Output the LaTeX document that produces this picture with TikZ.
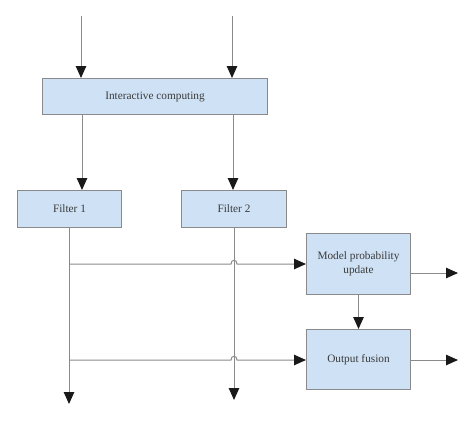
\documentclass[tikz,border=0pt]{standalone}
\usepackage{fontspec}
\setmainfont{Liberation Serif}
\usetikzlibrary{arrows.meta}
\definecolor{boxfill}{HTML}{CFE2F5}
\definecolor{linec}{HTML}{8A8A8A}
\definecolor{txt}{HTML}{3A3A3A}
\tikzset{
  blk/.style={draw=linec, fill=boxfill, line width=1pt, text=txt, font=\fontsize{11.3}{13.5}\selectfont, align=center, inner sep=0pt, anchor=north west},
  con/.style={draw=linec, line width=1pt},
  arr/.style={con, -{Triangle[length=12pt,width=10.5pt,color=black!90]}},
}
\begin{document}
\begin{tikzpicture}[x=1pt,y=-1pt]
\useasboundingbox (0,0) rectangle (474,421);
\node[blk, minimum width=225pt, minimum height=36pt] (ic) at (42,78) {Interactive computing};
\node[blk, minimum width=104pt, minimum height=37pt] (f1) at (17,190) {Filter 1};
\node[blk, minimum width=105pt, minimum height=37pt] (f2) at (181,190) {Filter 2};
\node[blk, minimum width=104pt, minimum height=61pt] (mpu) at (306,233) {Model probability\\update};
\node[blk, minimum width=104pt, minimum height=60pt] (of) at (306,329) {Output fusion};
% inputs
\coordinate (in1) at (81,16);
\coordinate (in2) at (232,16);
\draw[arr] (in1) -- (in1 |- ic.north);
\draw[arr] (in2) -- (in2 |- ic.north);
% IC to filters
\draw[arr] (ic.south -| 82,0) -- (82,190);
\draw[arr] (ic.south -| 233,0) -- (233,190);
% filter outputs down
\coordinate (o1) at (69,404);
\coordinate (o2) at (234,400);
\draw[arr] (f1.south -| o1) -- (o1);
\draw[arr] (f2.south -| o2) -- (o2);
% horizontals with hops
\coordinate (j1) at (69,264);
\coordinate (j2) at (69,360);
\draw[arr] (j1) -- (231,264) .. controls (231,259) and (237,259) .. (237,264) -- (mpu.west |- j1);
\draw[arr] (j2) -- (231,360) .. controls (231,355) and (237,355) .. (237,360) -- (of.west |- j2);
% MPU to OF
\draw[arr] (mpu.south) -- (of.north);
% outputs right
\coordinate (r1) at (458,273);
\coordinate (r2) at (458,360);
\draw[arr] (mpu.east |- r1) -- (r1);
\draw[arr] (of.east |- r2) -- (r2);
\end{tikzpicture}
\end{document}
